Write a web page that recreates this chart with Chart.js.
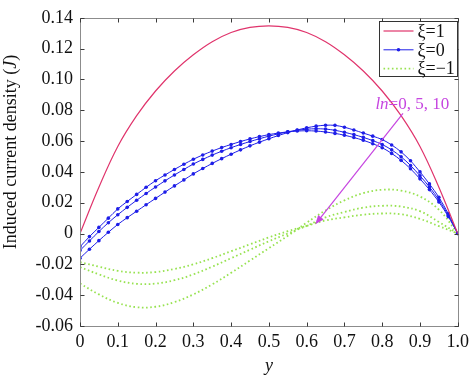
<!DOCTYPE html>
<html><head><meta charset="utf-8">
<script src="https://cdn.jsdelivr.net/npm/chart.js@4/dist/chart.umd.min.js"></script>
<style>html,body{margin:0;padding:0;background:#fff}canvas{display:block}</style>
</head><body>
<canvas id="c" width="474" height="378"></canvas>
<script>
// ---- data ----
const xFine = [0,0.025,0.05,0.075,0.1,0.125,0.15,0.175,0.2,0.225,0.25,0.275,0.3,0.325,0.35,0.375,0.4,0.425,0.45,0.475,0.5,0.525,0.55,0.575,0.6,0.625,0.65,0.675,0.7,0.725,0.75,0.775,0.8,0.825,0.85,0.875,0.9,0.925,0.95,0.975,1.0];
const xCoarse = [0,0.05,0.1,0.15,0.2,0.25,0.3,0.35,0.4,0.45,0.5,0.55,0.6,0.65,0.7,0.75,0.8,0.85,0.9,0.95,1.0];

const redXi1 = [0,0.0300,0.0565,0.0765,0.0925,0.1055,0.1160,0.1245,0.1305,0.1338,0.1348,0.1338,0.1305,0.1245,0.1160,0.1055,0.0925,0.0765,0.0565,0.0300,0];

const blueLn0 = [-0.0086,-0.0020,0.0040,0.0100,0.0160,0.0208,0.0254,0.0300,0.0343,0.0380,0.0416,0.0450,0.0482,0.0510,0.0535,0.0558,0.0578,0.0597,0.0614,0.0629,0.0642,0.0652,0.0660,0.0665,0.0667,0.0665,0.0659,0.0650,0.0638,0.0623,0.0605,0.0583,0.0557,0.0520,0.0475,0.0420,0.0355,0.0285,0.0205,0.0110,0];
const blueLn5 = [-0.0110,-0.0048,0.0013,0.0070,0.0122,0.0170,0.0216,0.0260,0.0302,0.0342,0.0380,0.0416,0.0451,0.0481,0.0509,0.0534,0.0557,0.0578,0.0597,0.0615,0.0632,0.0647,0.0660,0.0670,0.0677,0.0680,0.0678,0.0670,0.0657,0.0642,0.0624,0.0603,0.0578,0.0543,0.0498,0.0442,0.0375,0.0302,0.0218,0.0118,0];
const blueLn10 = [-0.0160,-0.0102,-0.0046,0.0008,0.0059,0.0103,0.0145,0.0187,0.0228,0.0269,0.0309,0.0348,0.0387,0.0422,0.0455,0.0486,0.0515,0.0543,0.0569,0.0593,0.0615,0.0636,0.0655,0.0672,0.0686,0.0697,0.0703,0.0702,0.0690,0.0672,0.0652,0.0632,0.0610,0.0575,0.0530,0.0472,0.0400,0.0322,0.0235,0.0128,0];

const greenLn0 = [-0.0186,-0.0215,-0.0242,-0.0254,-0.0250,-0.0230,-0.0200,-0.0160,-0.0115,-0.0070,-0.0025,0.0015,0.0050,0.0085,0.0105,0.0122,0.0130,0.0125,0.0095,0.0048,0];
const greenLn5 = [-0.0218,-0.0265,-0.0305,-0.0326,-0.0325,-0.0303,-0.0265,-0.0215,-0.0160,-0.0105,-0.0050,0.0000,0.0050,0.0105,0.0140,0.0168,0.0180,0.0175,0.0145,0.0075,0];
const greenLn10 = [-0.0324,-0.0395,-0.0450,-0.0478,-0.0475,-0.0445,-0.0395,-0.0330,-0.0255,-0.0175,-0.0095,-0.0015,0.0070,0.0150,0.0215,0.0262,0.0284,0.0278,0.0240,0.0155,0];

const xTickValues = [0,0.1,0.2,0.3,0.4,0.5,0.6,0.7,0.8,0.9,1.0];
const xTickLabels = ['0','0.1','0.2','0.3','0.4','0.5','0.6','0.7','0.8','0.9','1.0'];
const yTickValues = [-0.06,-0.04,-0.02,0,0.02,0.04,0.06,0.08,0.10,0.12,0.14];
const yTickLabels = ['-0.06','-0.04','-0.02','0','0.02','0.04','0.06','0.08','0.10','0.12','0.14'];

const legendLabels = ['\u03BE=1','\u03BE=0','\u03BE=\u22121'];
const annotationParts = ['ln','=0, 5, 10'];
const annotationAt = [0.782, 0.0805];
const arrowFrom = [0.855, 0.078];
const arrowTo = [0.623, 0.006];
const yTitleParts = ['Induced current density (','J',')'];
const xTitle = 'y';

// ---- styles ----
const SERIF = '"Liberation Serif","Times New Roman",serif';
const RED = '#e0346c', BLUE = '#1e1ee8', GREEN = '#97e250', MAG = '#c645e0';

function pts(xs, ys){ return xs.map((x,i)=>({x:x, y:ys[i]})); }

const redStyle = {borderColor:RED, backgroundColor:RED, borderWidth:1.2, pointRadius:0, tension:0.4};
const blueStyle = {borderColor:BLUE, backgroundColor:BLUE, borderWidth:1, pointRadius:1.8, pointBorderWidth:0, pointBackgroundColor:BLUE, tension:0.3};
const greenStyle = {borderColor:GREEN, backgroundColor:GREEN, borderWidth:1.8, borderDash:[1.6,2.6], pointRadius:0, tension:0.4};

const datasets = [
  Object.assign({label:legendLabels[0], data:pts(xCoarse, redXi1)}, redStyle),
  Object.assign({label:legendLabels[1], data:pts(xFine, blueLn0)}, blueStyle),
  Object.assign({label:legendLabels[1], data:pts(xFine, blueLn5)}, blueStyle),
  Object.assign({label:legendLabels[1], data:pts(xFine, blueLn10)}, blueStyle),
  Object.assign({label:legendLabels[2], data:pts(xCoarse, greenLn0)}, greenStyle),
  Object.assign({label:legendLabels[2], data:pts(xCoarse, greenLn5)}, greenStyle),
  Object.assign({label:legendLabels[2], data:pts(xCoarse, greenLn10)}, greenStyle)
];
const legendDatasetIdx = [0,1,4];

const decor = {
  id:'decor',
  afterDatasetsDraw(chart){
    const ctx = chart.ctx, a = chart.chartArea, xs = chart.scales.x, ys = chart.scales.y;
    ctx.save();
    // frame
    ctx.strokeStyle = '#8c8c8c'; ctx.lineWidth = 1; ctx.setLineDash([]);
    const L = Math.round(a.left)+0.5, T = Math.round(a.top)+0.5, R = Math.round(a.right)+0.5, B = Math.round(a.bottom)+0.5;
    ctx.strokeRect(L, T, R-L, B-T);
    // inward ticks
    ctx.strokeStyle = '#3a3a3a';
    ctx.beginPath();
    xTickValues.forEach(v=>{
      const px = Math.round(xs.getPixelForValue(v))+0.5;
      ctx.moveTo(px,B); ctx.lineTo(px,B-4);
      ctx.moveTo(px,T); ctx.lineTo(px,T+4);
    });
    yTickValues.forEach(v=>{
      const py = Math.round(ys.getPixelForValue(v))+0.5;
      ctx.moveTo(L,py); ctx.lineTo(L+4,py);
      ctx.moveTo(R,py); ctx.lineTo(R-4,py);
    });
    ctx.stroke();

    // legend box (top right inside the plot)
    const bw = 78, bh = 55;
    const bx = Math.round(a.right) - bw - 1 + 0.5, by = Math.round(a.top) + 3.5;
    ctx.fillStyle = '#fff'; ctx.fillRect(bx, by, bw, bh);
    ctx.strokeStyle = '#333'; ctx.lineWidth = 1; ctx.strokeRect(bx, by, bw, bh);
    ctx.font = '18px ' + SERIF; ctx.textBaseline = 'middle'; ctx.textAlign = 'left'; ctx.fillStyle = '#111';
    legendDatasetIdx.forEach((di,k)=>{
      const ds = chart.data.datasets[di];
      const cy = by + 9.5 + k*18.8;
      ctx.save();
      ctx.strokeStyle = ds.borderColor; ctx.lineWidth = ds.borderWidth;
      ctx.setLineDash(ds.borderDash || []);
      ctx.beginPath(); ctx.moveTo(bx+4, cy); ctx.lineTo(bx+34, cy); ctx.stroke();
      if (ds.pointRadius > 0) {
        ctx.fillStyle = ds.pointBackgroundColor;
        ctx.beginPath(); ctx.arc(bx+19, cy, ds.pointRadius, 0, Math.PI*2); ctx.fill();
      }
      ctx.restore();
      ctx.fillText(legendLabels[k], bx+38, cy+1);
    });

    // arrow
    const x0 = xs.getPixelForValue(arrowFrom[0]), y0 = ys.getPixelForValue(arrowFrom[1]);
    const x1 = xs.getPixelForValue(arrowTo[0]), y1 = ys.getPixelForValue(arrowTo[1]);
    const ang = Math.atan2(y1-y0, x1-x0);
    ctx.strokeStyle = MAG; ctx.fillStyle = MAG; ctx.lineWidth = 1.2;
    ctx.beginPath(); ctx.moveTo(x0,y0); ctx.lineTo(x1 - 6*Math.cos(ang), y1 - 6*Math.sin(ang)); ctx.stroke();
    ctx.beginPath();
    ctx.moveTo(x1,y1);
    ctx.lineTo(x1 - 9*Math.cos(ang) + 3.5*Math.sin(ang), y1 - 9*Math.sin(ang) - 3.5*Math.cos(ang));
    ctx.lineTo(x1 - 9*Math.cos(ang) - 3.5*Math.sin(ang), y1 - 9*Math.sin(ang) + 3.5*Math.cos(ang));
    ctx.closePath(); ctx.fill();

    // annotation text
    const tx = xs.getPixelForValue(annotationAt[0]), ty = ys.getPixelForValue(annotationAt[1]);
    ctx.textBaseline = 'alphabetic'; ctx.textAlign = 'left'; ctx.fillStyle = MAG;
    ctx.font = 'italic 17px ' + SERIF;
    ctx.fillText(annotationParts[0], tx, ty);
    const w0 = ctx.measureText(annotationParts[0]).width;
    ctx.font = '17px ' + SERIF;
    ctx.fillText(annotationParts[1], tx + w0, ty);
    ctx.restore();
  },
  afterDraw(chart){
    const ctx = chart.ctx, a = chart.chartArea;
    ctx.save();
    ctx.fillStyle = '#111'; ctx.textBaseline = 'alphabetic';
    // y title (rotated, with italic J)
    const fN = '18px ' + SERIF, fI = 'italic 18px ' + SERIF;
    ctx.font = fN; const w1 = ctx.measureText(yTitleParts[0]).width, w3 = ctx.measureText(yTitleParts[2]).width;
    ctx.font = fI; const w2 = ctx.measureText(yTitleParts[1]).width;
    const total = w1 + w2 + w3;
    ctx.translate(16, 152);
    ctx.rotate(-Math.PI/2);
    ctx.textAlign = 'left';
    let cx = -total/2;
    ctx.font = fN; ctx.fillText(yTitleParts[0], cx, 0); cx += w1;
    ctx.font = fI; ctx.fillText(yTitleParts[1], cx, 0); cx += w2;
    ctx.font = fN; ctx.fillText(yTitleParts[2], cx, 0);
    ctx.setTransform(1,0,0,1,0,0);
    // x title
    ctx.font = 'italic 18px ' + SERIF; ctx.textAlign = 'center';
    ctx.fillText(xTitle, (a.left + a.right)/2, 371);
    ctx.restore();
  }
};

new Chart(document.getElementById('c'), {
  type:'line',
  data:{datasets:datasets},
  options:{
    responsive:false, animation:false, devicePixelRatio:1,
    layout:{padding:{top:8, right:13, left:0, bottom:0}},
    plugins:{legend:{display:false}, tooltip:{enabled:false}},
    scales:{
      x:{type:'linear', min:0, max:1,
         afterFit(s){ s.height = 52; },
         grid:{display:false, drawTicks:false}, border:{display:false},
         ticks:{stepSize:0.1, padding:5, autoSkip:false, maxRotation:0, color:'#111',
                font:{family:SERIF, size:18},
                callback:(v)=>{ const i = xTickValues.findIndex(t=>Math.abs(t-v)<1e-6); return i<0?'':xTickLabels[i]; }}},
      y:{type:'linear', min:-0.06, max:0.14,
         afterFit(s){ s.width = 80; },
         grid:{display:false, drawTicks:false}, border:{display:false},
         ticks:{stepSize:0.02, padding:7, autoSkip:false, color:'#111',
                font:{family:SERIF, size:18},
                callback:(v)=>{ const i = yTickValues.findIndex(t=>Math.abs(t-v)<1e-6); return i<0?'':yTickLabels[i]; }}}
    }
  },
  plugins:[decor]
});
</script>
</body></html>
